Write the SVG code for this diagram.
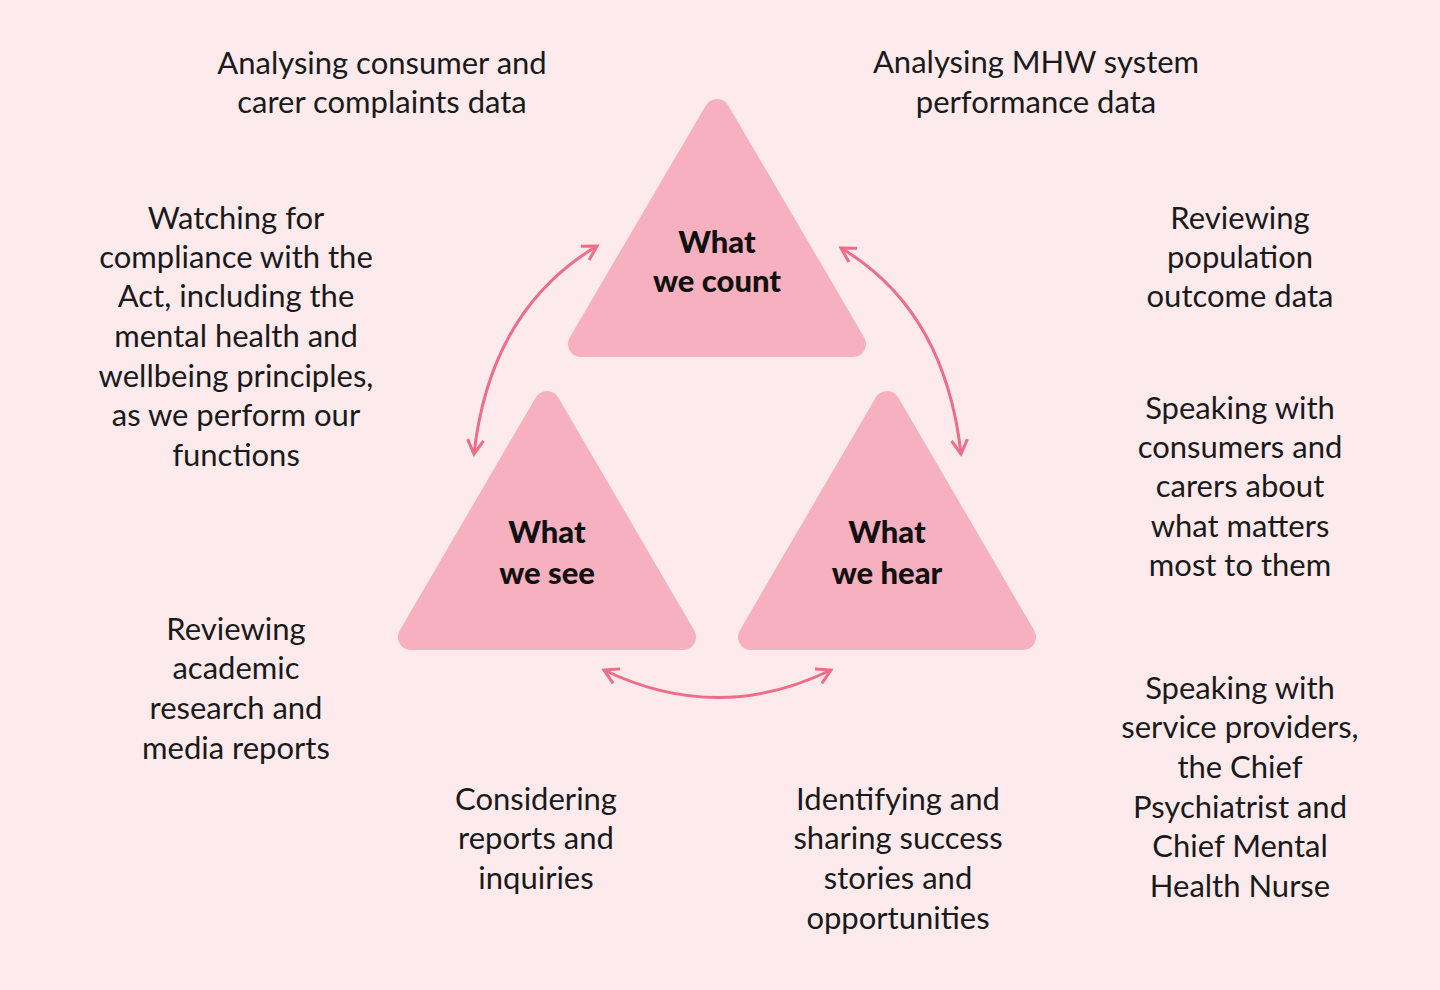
<svg xmlns="http://www.w3.org/2000/svg" width="1440" height="990" viewBox="0 0 1440 990">
<style>
.t{font-family:Lato,"Open Sans",sans-serif;font-size:31px;fill:#1a1a1a;text-anchor:middle}
.b{font-family:Lato,"Open Sans",sans-serif;font-size:31px;font-weight:900;fill:#111;text-anchor:middle}
.tri{fill:#f6b0bf;stroke:#f6b0bf;stroke-width:26;stroke-linejoin:round}
.arc{fill:none;stroke:#ee6d88;stroke-width:3}
</style>
<defs>
<marker id="ah" viewBox="0 0 20 20" refX="16" refY="10" markerWidth="20" markerHeight="20" markerUnits="userSpaceOnUse" orient="auto-start-reverse">
<polyline points="2,2 16,10 2,18" fill="none" stroke="#ee6d88" stroke-width="3"/>
</marker>
</defs>
<rect width="1440" height="990" fill="#fdeaec"/>
<g id="count"><polygon class="tri" points="717,112 853,344 581,344"/><text class="b" x="717" y="253">What</text><text class="b" x="717" y="292">we count</text></g>
<g id="see"><polygon class="tri" points="547,404 683,637 411,637"/><text class="b" x="547" y="543">What</text><text class="b" x="547" y="584">we see</text></g>
<g id="hear"><polygon class="tri" points="887,404 1023,637 751,637"/><text class="b" x="887" y="543">What</text><text class="b" x="887" y="584">we hear</text></g>
<g id="connectors">
<path class="arc" d="M597,246 Q490,310 474,454" marker-start="url(#ah)" marker-end="url(#ah)"/>
<path class="arc" d="M841,248 Q945,310 961,454" marker-start="url(#ah)" marker-end="url(#ah)"/>
<path class="arc" d="M604,670 Q718,725 831,670" marker-start="url(#ah)" marker-end="url(#ah)"/>
</g>
<g id="labels">
<text class="t" x="382" y="74">Analysing consumer and</text><text class="t" x="382" y="113">carer complaints data</text>
<text class="t" x="1036" y="73">Analysing MHW system</text><text class="t" x="1036" y="113">performance data</text>
<text class="t" x="236" y="229">Watching for</text><text class="t" x="236" y="268">compliance with the</text><text class="t" x="236" y="307">Act, including the</text><text class="t" x="236" y="347">mental health and</text><text class="t" x="236" y="387">wellbeing principles,</text><text class="t" x="236" y="426">as we perform our</text><text class="t" x="236" y="466">functions</text>
<text class="t" x="1240" y="229">Reviewing</text><text class="t" x="1240" y="268">population</text><text class="t" x="1240" y="307">outcome data</text>
<text class="t" x="1240" y="419">Speaking with</text><text class="t" x="1240" y="458">consumers and</text><text class="t" x="1240" y="497">carers about</text><text class="t" x="1240" y="537">what matters</text><text class="t" x="1240" y="576">most to them</text>
<text class="t" x="236" y="640">Reviewing</text><text class="t" x="236" y="679">academic</text><text class="t" x="236" y="719">research and</text><text class="t" x="236" y="759">media reports</text>
<text class="t" x="536" y="810">Considering</text><text class="t" x="536" y="849">reports and</text><text class="t" x="536" y="889">inquiries</text>
<text class="t" x="898" y="810">Identifying and</text><text class="t" x="898" y="849">sharing success</text><text class="t" x="898" y="889">stories and</text><text class="t" x="898" y="929">opportunities</text>
<text class="t" x="1240" y="699">Speaking with</text><text class="t" x="1240" y="738">service providers,</text><text class="t" x="1240" y="778">the Chief</text><text class="t" x="1240" y="818">Psychiatrist and</text><text class="t" x="1240" y="857">Chief Mental</text><text class="t" x="1240" y="897">Health Nurse</text>
</g>
</svg>
